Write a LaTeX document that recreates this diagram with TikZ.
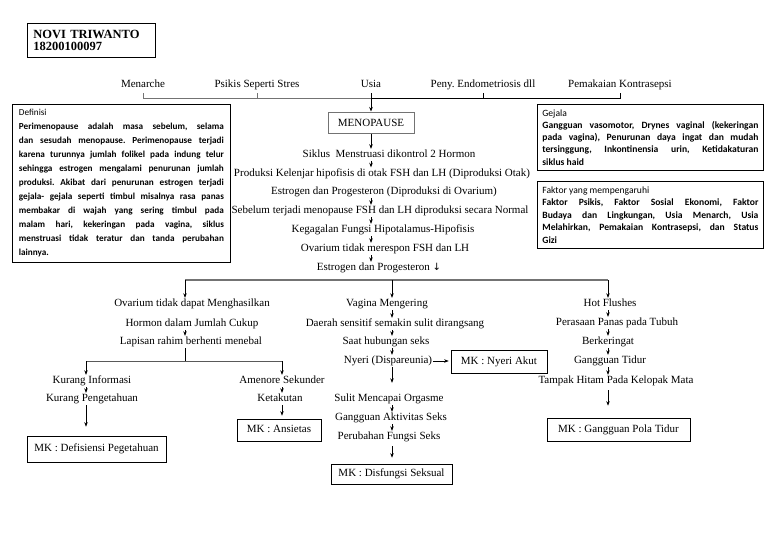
\documentclass[tikz,border=0pt]{standalone}
\usepackage{fontspec}
\setmainfont{Liberation Serif}
\newfontfamily\carl{Carlito}
\newfontfamily\djv{DejaVu Sans}
\usetikzlibrary{arrows.meta}
\frenchspacing
\newcommand\parset{\frenchspacing\tolerance=10000\hyphenpenalty=10000\exhyphenpenalty=10000}
\begin{document}
\begin{tikzpicture}[x=1pt,y=-1pt,
  txt/.style={font=\fontsize{11}{12}\selectfont, inner sep=1pt, text height=7.5pt, text depth=2.5pt},
  arr/.style={line width=0.6pt, -{Stealth[length=4.5pt,width=3.5pt]}},
  ln/.style={line width=0.6pt},
  mkbox/.style={draw, line width=0.7pt, font=\fontsize{11}{12}\selectfont, inner sep=0pt, text height=7.5pt, text depth=2.5pt},
  infobox/.style={draw, line width=0.8pt, anchor=north west, align=justify, inner ysep=5pt},
]
\useasboundingbox[fill=white] (0,0) rectangle (768,543);

% header
\node[draw, line width=0.9pt, anchor=north west, minimum width=128pt, minimum height=34pt,
  text width=116pt, inner xsep=6pt, align=left, font=\bfseries\fontsize{12.5}{12.5}\selectfont]
  (hdr) at (27,23) {NOVI TRIWANTO\\18200100097};

% factors
\node[txt] (f1) at (143,85) {Menarche};
\node[txt] (f2) at (257,85) {Psikis Seperti Stres};
\node[txt] (f3) at (371,85) {Usia};
\node[txt] (f4) at (483,85) {Peny. Endometriosis dll};
\node[txt] (f5) at (620,85) {Pemakaian Kontrasepsi};

\node[draw=black!55, line width=1pt, minimum width=86pt, minimum height=21pt, inner sep=0pt,
  font=\fontsize{11}{12}\selectfont] (meno) at (371,122.5) {MENOPAUSE};

\coordinate (tk) at (0,93);
\coordinate (tl) at (0,98.5);
\draw[ln, black!55] (f1 |- tk) -- (f1 |- tl) -- (f3 |- tl);
\draw[ln, black!55] (f2 |- tk) -- (f2 |- tl);
\draw[ln] (f3 |- tl) -- (f5 |- tl) -- (f5 |- tk);
\draw[ln] (f4 |- tk) -- (f4 |- tl);
\draw[arr] (f3 |- tk) -- (meno.north);

% info boxes
\node[infobox, text width=205pt, inner xsep=6.5pt, font=\carl\fontsize{9.2}{14}\selectfont\parset] (def) at (12,104)
 {Definisi\\
 \bfseries Perimenopause adalah masa sebelum, selama\linebreak
 dan sesudah menopause. Perimenopause terjadi\linebreak
 karena turunnya jumlah folikel pada indung telur\linebreak
 sehingga estrogen mengalami penurunan jumlah\linebreak
 produksi. Akibat dari penurunan estrogen terjadi\linebreak
 gejala- gejala seperti timbul misalnya rasa panas\linebreak
 membakar di wajah yang sering timbul pada\linebreak
 malam hari, kekeringan pada vagina, siklus\linebreak
 menstruasi tidak teratur dan tanda perubahan\linebreak
 lainnya.};

\node[infobox, text width=216pt, inner xsep=5pt, font=\carl\fontsize{9.6}{12.3}\selectfont\parset] (gej) at (537,104)
 {Gejala\\
 \bfseries Gangguan vasomotor, Drynes vaginal (kekeringan\linebreak
 pada vagina), Penurunan daya ingat dan mudah\linebreak
 tersinggung, Inkontinensia urin, Ketidakaturan\linebreak
 siklus haid};

\node[infobox, text width=216pt, inner xsep=5pt, font=\carl\fontsize{9.6}{12.6}\selectfont\parset] (fak) at (537,181)
 {Faktor yang mempengaruhi\\
 \bfseries Faktor Psikis, Faktor Sosial Ekonomi, Faktor\linebreak
 Budaya dan Lingkungan, Usia Menarch, Usia\linebreak
 Melahirkan, Pemakaian Kontrasepsi, dan Status\linebreak
 Gizi};

% central chain
\node[txt] (c1) at (389,155) {Siklus\ \ Menstruasi dikontrol 2 Hormon};
\node[txt] (c2) at (382,173.5) {Produksi Kelenjar hipofisis di otak FSH dan LH (Diproduksi Otak)};
\node[txt] (c3) at (384,192) {Estrogen dan Progesteron (Diproduksi di Ovarium)};
\node[txt] (c4) at (380,211) {Sebelum terjadi menopause FSH dan LH diproduksi secara Normal};
\node[txt] (c5) at (383,230) {Kegagalan Fungsi Hipotalamus-Hipofisis};
\node[txt] (c6) at (385,249) {Ovarium tidak merespon FSH dan LH};
\node[txt] (c7) at (379,268) {Estrogen dan Progesteron {\djv\fontsize{10}{10}\selectfont ↓}};

\draw[arr] (meno.south) -- (c1.north -| meno);
\draw[arr] (c1.south -| meno) -- (c2.north -| meno);
\draw[arr] (c3.south -| meno) -- (c4.north -| meno);
\draw[arr] (c4.south -| meno) -- (c5.north -| meno);
\draw[arr] (c5.south -| meno) -- (c6.north -| meno);
\draw[arr] (c6.south -| meno) -- (c7.north -| meno);

% branch
\coordinate (bL) at (185,280);
\coordinate (bC) at (392,280);
\coordinate (bR) at (608,280);
\draw[line width=1.1pt, black!55] (bL) -- (bR);

% left column
\node[txt] (l1) at (192,304) {Ovarium tidak dapat Menghasilkan};
\node[txt] (l2) at (192,324) {Hormon dalam Jumlah Cukup};
\node[txt] (l3) at (191,342) {Lapisan rahim berhenti menebal};
\node[txt] (l4) at (92,381) {Kurang Informasi};
\node[txt] (l5) at (92,399) {Kurang Pengetahuan};
\node[txt] (l6) at (282,381) {Amenore Sekunder};
\node[txt] (l7) at (280,399) {Ketakutan};
\node[mkbox, minimum width=139pt, minimum height=26pt] (mk1) at (96.5,449) {MK : Defisiensi Pegetahuan};
\node[mkbox, minimum width=84pt, minimum height=22pt] (mk2) at (279,430) {MK : Ansietas};

\coordinate (bL2) at (185,361);
\coordinate (bLa) at (86,361);
\coordinate (bLb) at (282,361);
\draw[arr] (bL) -- (l1.north -| bL);
\draw[arr] (l2.south -| bL) -- (l3.north -| bL);
\draw[ln] (l3.south -| bL) -- (bL2);
\draw[line width=0.9pt, black!65] (bLa) -- (bLb);
\draw[arr] (bLa) -- (l4.north -| bLa);
\draw[arr] (bLb) -- (l6.north -| bLb);
\draw[arr] (l4.south -| bLa) -- (l5.north -| bLa);
\draw[arr, shorten >=9pt] (l5.south -| bLa) -- (mk1.north -| bLa);
\draw[arr] (l6.south -| bLb) -- (l7.north -| bLb);
\draw[arr, shorten >=3pt] (l7.south -| bLb) -- (mk2.north -| bLb);

% center column
\node[txt] (m1) at (387,304) {Vagina Mengering};
\node[txt] (m2) at (395,324) {Daerah sensitif semakin sulit dirangsang};
\node[txt] (m3) at (386,342) {Saat hubungan seks};
\node[txt] (m4) at (388,361) {Nyeri (Dispareunia)};
\node[txt] (m5) at (389,399) {Sulit Mencapai Orgasme};
\node[txt] (m6) at (391,418) {Gangguan Aktivitas Seks};
\node[txt] (m7) at (389,437) {Perubahan Fungsi Seks};
\node[mkbox, minimum width=96pt, minimum height=23pt] (mkn) at (499,361.5) {MK : Nyeri Akut};
\node[mkbox, minimum width=121pt, minimum height=20pt] (mkd) at (391.5,474) {MK : Disfungsi Seksual};

\draw[arr] (bC) -- (m1.north -| bC);
\draw[arr] (m1.south -| bC) -- (m2.north -| bC);
\draw[arr] (m2.south -| bC) -- (m3.north -| bC);
\draw[arr] (m3.south -| bC) -- (m4.north -| bC);
\draw[arr, shorten >=2pt] (m4.east) -- (m4.east -| mkn.west);
\draw[arr, shorten >=10pt] (m4.south -| bC) -- (m5.north -| bC);
\draw[arr] (m5.south -| bC) -- (m6.north -| bC);
\draw[arr] (m6.south -| bC) -- (m7.north -| bC);
\draw[arr, shorten >=6pt, shorten <=3pt] (m7.south -| bC) -- (mkd.north -| bC);

% right column
\node[txt] (r1) at (610,304) {Hot Flushes};
\node[txt] (r2) at (617,323) {Perasaan Panas pada Tubuh};
\node[txt] (r3) at (608,342) {Berkeringat};
\node[txt] (r4) at (610,361) {Gangguan Tidur};
\node[txt] (r5) at (616,381) {Tampak Hitam Pada Kelopak Mata};
\node[mkbox, minimum width=143pt, minimum height=23pt] (mkp) at (618.5,429.5) {MK : Gangguan Pola Tidur};

\draw[arr] (bR) -- (r1.north -| bR);
\draw[arr] (r1.south -| bR) -- (r2.north -| bR);
\draw[arr] (r2.south -| bR) -- (r3.north -| bR);
\draw[arr] (r3.south -| bR) -- (r4.north -| bR);
\draw[arr] (r4.south -| bR) -- (r5.north -| bR);
\draw[arr, shorten >=12pt, shorten <=3pt] (r5.south -| bR) -- (mkp.north -| bR);
\end{tikzpicture}
\end{document}
